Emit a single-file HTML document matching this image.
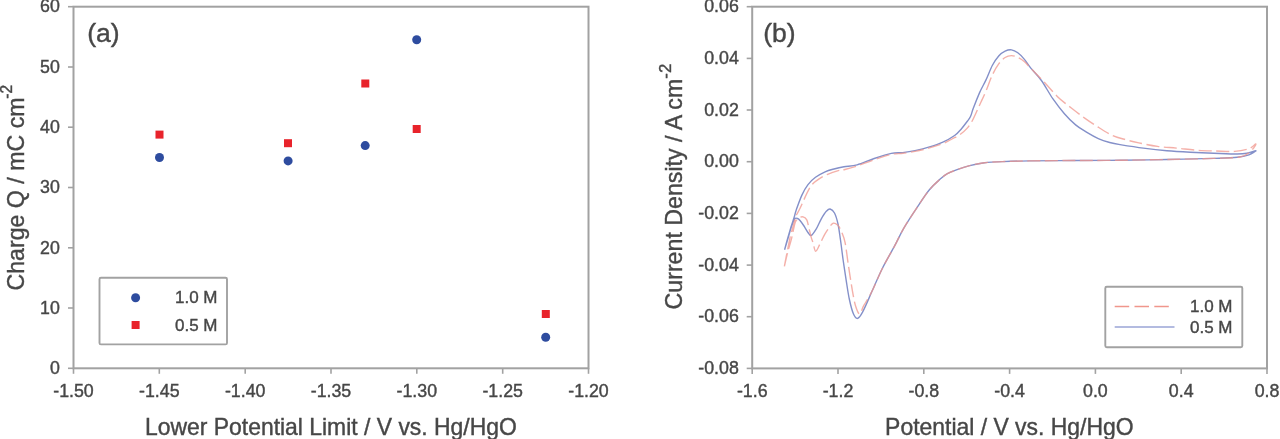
<!DOCTYPE html>
<html><head><meta charset="utf-8"><title>Figure</title>
<style>
html,body{margin:0;padding:0;background:#fff;}
body{width:1280px;height:439px;overflow:hidden;}
svg{display:block;filter:blur(0.75px);}
text{font-family:'Liberation Sans', Arial, Helvetica, sans-serif;fill:#474747;stroke:#474747;stroke-width:0.4px;}
.t{font-size:17.8px;}
.l{font-size:17px;}
.a{font-size:23.4px;}
.s{font-size:17px;}
.p{font-size:26.5px;}
</style></head><body>
<svg width="1280" height="439" viewBox="0 0 1280 439">
<rect width="1280" height="439" fill="#fff"/>
<rect x="73.5" y="6.7" width="515.0" height="361.6" fill="none" stroke="#a2a2a2" stroke-width="2"/>
<line x1="68.0" y1="368.3" x2="73.5" y2="368.3" stroke="#a2a2a2" stroke-width="1.6"/>
<text x="59.8" y="374.0" text-anchor="end" class="t">0</text>
<line x1="68.0" y1="308.0" x2="73.5" y2="308.0" stroke="#a2a2a2" stroke-width="1.6"/>
<text x="59.8" y="313.7" text-anchor="end" class="t">10</text>
<line x1="68.0" y1="247.8" x2="73.5" y2="247.8" stroke="#a2a2a2" stroke-width="1.6"/>
<text x="59.8" y="253.5" text-anchor="end" class="t">20</text>
<line x1="68.0" y1="187.5" x2="73.5" y2="187.5" stroke="#a2a2a2" stroke-width="1.6"/>
<text x="59.8" y="193.2" text-anchor="end" class="t">30</text>
<line x1="68.0" y1="127.2" x2="73.5" y2="127.2" stroke="#a2a2a2" stroke-width="1.6"/>
<text x="59.8" y="132.9" text-anchor="end" class="t">40</text>
<line x1="68.0" y1="67.0" x2="73.5" y2="67.0" stroke="#a2a2a2" stroke-width="1.6"/>
<text x="59.8" y="72.7" text-anchor="end" class="t">50</text>
<line x1="68.0" y1="6.7" x2="73.5" y2="6.7" stroke="#a2a2a2" stroke-width="1.6"/>
<text x="59.8" y="12.4" text-anchor="end" class="t">60</text>
<line x1="73.5" y1="368.3" x2="73.5" y2="373.8" stroke="#a2a2a2" stroke-width="1.6"/>
<text x="73.5" y="397.2" text-anchor="middle" class="t">-1.50</text>
<line x1="159.3" y1="368.3" x2="159.3" y2="373.8" stroke="#a2a2a2" stroke-width="1.6"/>
<text x="159.3" y="397.2" text-anchor="middle" class="t">-1.45</text>
<line x1="245.2" y1="368.3" x2="245.2" y2="373.8" stroke="#a2a2a2" stroke-width="1.6"/>
<text x="245.2" y="397.2" text-anchor="middle" class="t">-1.40</text>
<line x1="331.0" y1="368.3" x2="331.0" y2="373.8" stroke="#a2a2a2" stroke-width="1.6"/>
<text x="331.0" y="397.2" text-anchor="middle" class="t">-1.35</text>
<line x1="416.8" y1="368.3" x2="416.8" y2="373.8" stroke="#a2a2a2" stroke-width="1.6"/>
<text x="416.8" y="397.2" text-anchor="middle" class="t">-1.30</text>
<line x1="502.7" y1="368.3" x2="502.7" y2="373.8" stroke="#a2a2a2" stroke-width="1.6"/>
<text x="502.7" y="397.2" text-anchor="middle" class="t">-1.25</text>
<line x1="588.5" y1="368.3" x2="588.5" y2="373.8" stroke="#a2a2a2" stroke-width="1.6"/>
<text x="588.5" y="397.2" text-anchor="middle" class="t">-1.20</text>
<rect x="155.5" y="130.6" width="8" height="8" fill="#e8232b"/>
<rect x="284.0" y="139.2" width="8" height="8" fill="#e8232b"/>
<rect x="361.3" y="79.5" width="8" height="8" fill="#e8232b"/>
<rect x="412.7" y="125.0" width="8" height="8" fill="#e8232b"/>
<rect x="541.8" y="310.0" width="8" height="8" fill="#e8232b"/>
<circle cx="159.5" cy="157.5" r="4.5" fill="#2e4c9f"/>
<circle cx="288.1" cy="160.9" r="4.5" fill="#2e4c9f"/>
<circle cx="365.2" cy="145.6" r="4.5" fill="#2e4c9f"/>
<circle cx="416.7" cy="39.7" r="4.5" fill="#2e4c9f"/>
<circle cx="545.7" cy="337.2" r="4.5" fill="#2e4c9f"/>
<rect x="99.5" y="277.7" width="127.5" height="66.7" fill="#fff" stroke="#a2a2a2" stroke-width="1.9" rx="1.5"/>
<circle cx="135.6" cy="297.7" r="4.5" fill="#2e4c9f"/>
<rect x="131.6" y="321" width="8" height="8" fill="#e8232b"/>
<text x="217.5" y="303.3" text-anchor="end" class="l">1.0 M</text>
<text x="217.5" y="330.8" text-anchor="end" class="l">0.5 M</text>
<text x="87.3" y="42" class="p">(a)</text>
<text x="145.0" y="434.6" class="a" textLength="371.8" lengthAdjust="spacingAndGlyphs">Lower Potential Limit / V vs. Hg/HgO</text>
<text transform="translate(23.7,290.5) rotate(-90)" class="a" textLength="193" lengthAdjust="spacingAndGlyphs">Charge Q / mC cm</text>
<text transform="translate(11.7,98.8) rotate(-90)" class="a" style="font-size:15.6px">-2</text>
<rect x="752.2" y="6.7" width="514.8" height="361.7" fill="none" stroke="#a2a2a2" stroke-width="2"/>
<line x1="746.7" y1="6.7" x2="752.2" y2="6.7" stroke="#a2a2a2" stroke-width="1.6"/>
<text x="738.8" y="12.4" text-anchor="end" class="t">0.06</text>
<line x1="746.7" y1="58.4" x2="752.2" y2="58.4" stroke="#a2a2a2" stroke-width="1.6"/>
<text x="738.8" y="64.1" text-anchor="end" class="t">0.04</text>
<line x1="746.7" y1="110.0" x2="752.2" y2="110.0" stroke="#a2a2a2" stroke-width="1.6"/>
<text x="738.8" y="115.7" text-anchor="end" class="t">0.02</text>
<line x1="746.7" y1="161.7" x2="752.2" y2="161.7" stroke="#a2a2a2" stroke-width="1.6"/>
<text x="738.8" y="167.4" text-anchor="end" class="t">0.00</text>
<line x1="746.7" y1="213.4" x2="752.2" y2="213.4" stroke="#a2a2a2" stroke-width="1.6"/>
<text x="738.8" y="219.1" text-anchor="end" class="t">-0.02</text>
<line x1="746.7" y1="265.1" x2="752.2" y2="265.1" stroke="#a2a2a2" stroke-width="1.6"/>
<text x="738.8" y="270.8" text-anchor="end" class="t">-0.04</text>
<line x1="746.7" y1="316.7" x2="752.2" y2="316.7" stroke="#a2a2a2" stroke-width="1.6"/>
<text x="738.8" y="322.4" text-anchor="end" class="t">-0.06</text>
<line x1="746.7" y1="368.4" x2="752.2" y2="368.4" stroke="#a2a2a2" stroke-width="1.6"/>
<text x="738.8" y="374.1" text-anchor="end" class="t">-0.08</text>
<line x1="752.2" y1="368.4" x2="752.2" y2="373.9" stroke="#a2a2a2" stroke-width="1.6"/>
<text x="752.2" y="397.2" text-anchor="middle" class="t">-1.6</text>
<line x1="838.0" y1="368.4" x2="838.0" y2="373.9" stroke="#a2a2a2" stroke-width="1.6"/>
<text x="838.0" y="397.2" text-anchor="middle" class="t">-1.2</text>
<line x1="923.8" y1="368.4" x2="923.8" y2="373.9" stroke="#a2a2a2" stroke-width="1.6"/>
<text x="923.8" y="397.2" text-anchor="middle" class="t">-0.8</text>
<line x1="1009.6" y1="368.4" x2="1009.6" y2="373.9" stroke="#a2a2a2" stroke-width="1.6"/>
<text x="1009.6" y="397.2" text-anchor="middle" class="t">-0.4</text>
<line x1="1095.4" y1="368.4" x2="1095.4" y2="373.9" stroke="#a2a2a2" stroke-width="1.6"/>
<text x="1095.4" y="397.2" text-anchor="middle" class="t">0.0</text>
<line x1="1181.2" y1="368.4" x2="1181.2" y2="373.9" stroke="#a2a2a2" stroke-width="1.6"/>
<text x="1181.2" y="397.2" text-anchor="middle" class="t">0.4</text>
<line x1="1267.0" y1="368.4" x2="1267.0" y2="373.9" stroke="#a2a2a2" stroke-width="1.6"/>
<text x="1267.0" y="397.2" text-anchor="middle" class="t">0.8</text>
<path d="M784.6 249.7 C785.1 247.8 786.7 241.8 787.8 238.0 C788.9 234.2 790.0 230.4 791.0 227.0 C792.0 223.6 793.2 220.4 794.1 217.5 C795.0 214.6 795.1 213.2 796.4 209.5 C797.7 205.8 800.0 199.2 801.9 195.1 C803.8 190.9 805.7 187.6 808.0 184.6 C810.3 181.6 812.6 179.4 815.5 177.3 C818.4 175.2 822.0 173.2 825.1 171.8 C828.2 170.4 830.9 169.8 834.0 169.0 C837.1 168.2 840.1 167.5 844.0 166.8 C847.9 166.1 852.1 166.2 857.1 164.8 C862.1 163.4 868.5 160.4 874.2 158.5 C879.9 156.6 886.5 154.4 891.3 153.4 C896.0 152.4 898.8 153.1 902.7 152.6 C906.7 152.1 910.7 151.5 915.0 150.6 C919.3 149.7 924.2 148.6 928.7 147.2 C933.2 145.8 938.0 144.3 942.3 142.4 C946.6 140.5 951.4 137.8 954.6 135.5 C957.8 133.2 959.4 131.1 961.5 128.7 C963.6 126.3 966.0 123.0 967.5 121.0 C969.0 119.0 969.5 118.6 970.5 116.5 C971.5 114.4 971.7 112.6 973.2 108.6 C974.7 104.6 977.5 97.4 979.6 92.6 C981.7 87.8 983.9 84.4 986.0 79.9 C988.1 75.4 990.2 69.5 992.3 65.5 C994.4 61.5 996.6 58.4 998.7 56.0 C1000.8 53.6 1003.0 52.2 1005.1 51.2 C1007.2 50.2 1009.4 49.6 1011.5 49.9 C1013.6 50.2 1015.7 51.3 1017.8 52.8 C1019.9 54.3 1022.1 56.6 1024.2 59.1 C1026.3 61.6 1027.7 64.3 1030.6 67.9 C1033.5 71.5 1037.7 75.4 1041.4 80.5 C1045.1 85.6 1049.0 93.2 1052.8 98.7 C1056.6 104.2 1060.4 109.1 1064.2 113.5 C1068.0 117.9 1071.8 121.8 1075.6 124.9 C1079.4 128.1 1083.1 130.1 1086.9 132.4 C1090.7 134.7 1094.5 136.9 1098.3 138.6 C1102.1 140.3 1106.1 141.5 1109.7 142.5 C1113.3 143.5 1114.4 143.7 1120.0 144.6 C1125.6 145.5 1135.6 147.1 1143.4 148.1 C1151.2 149.1 1159.1 150.0 1166.9 150.7 C1174.7 151.4 1182.5 151.8 1190.3 152.2 C1198.1 152.6 1206.0 152.9 1213.8 153.2 C1221.6 153.5 1231.7 154.0 1237.2 154.0 C1242.7 154.0 1243.9 153.8 1247.0 153.2 C1250.1 152.6 1255.6 150.4 1255.9 150.7 C1256.2 151.0 1252.0 153.7 1248.9 154.8 C1245.8 155.9 1243.1 156.7 1237.2 157.3 C1231.3 157.9 1225.5 158.0 1213.8 158.4 C1202.1 158.8 1182.5 159.2 1166.9 159.5 C1151.3 159.8 1135.5 160.1 1120.0 160.3 C1104.5 160.5 1088.8 160.4 1073.6 160.5 C1058.4 160.6 1040.9 160.7 1029.0 160.9 C1017.1 161.1 1009.7 161.3 1002.3 161.6 C994.9 161.9 989.9 162.1 984.5 162.8 C979.1 163.5 974.2 164.5 969.7 165.6 C965.2 166.7 961.5 168.0 957.8 169.3 C954.1 170.7 950.3 172.1 947.4 173.7 C944.5 175.3 943.2 176.4 940.2 179.1 C937.2 181.8 933.2 185.1 929.2 190.0 C925.2 194.9 920.8 201.9 916.5 208.3 C912.2 214.7 907.4 222.0 903.7 228.3 C900.0 234.6 898.1 239.5 894.5 246.2 C890.9 252.9 886.0 261.2 882.2 268.7 C878.5 276.2 875.2 284.1 872.0 291.3 C868.8 298.5 865.1 307.4 862.7 311.9 C860.3 316.4 859.1 318.0 857.6 318.4 C856.1 318.8 854.9 317.1 853.5 314.0 C852.1 310.9 850.6 305.0 849.4 299.5 C848.2 294.0 847.3 287.6 846.3 281.1 C845.3 274.6 844.2 267.4 843.2 260.5 C842.2 253.7 841.4 246.1 840.5 240.0 C839.6 233.9 839.0 228.5 838.0 224.0 C837.0 219.5 835.8 215.5 834.5 213.0 C833.2 210.5 831.5 209.3 830.1 209.0 C828.7 208.7 827.8 209.7 826.3 211.3 C824.8 212.9 823.0 215.9 821.3 218.8 C819.6 221.7 818.0 226.0 816.3 228.8 C814.6 231.6 812.7 234.8 811.3 235.4 C809.9 236.0 809.2 234.1 808.0 232.5 C806.8 230.9 805.3 228.0 804.0 226.0 C802.7 224.0 801.1 221.8 800.0 220.5 C798.9 219.2 798.4 218.8 797.5 218.5 C796.6 218.2 795.6 217.4 794.5 219.0 C793.4 220.6 792.1 224.7 791.0 228.0 C789.9 231.3 788.9 235.4 787.8 239.0 C786.7 242.6 785.1 247.9 784.6 249.7" fill="none" stroke="#8490c9" stroke-width="1.4"/>
<path d="M784.4 266.4 C784.8 264.1 786.0 257.7 787.0 252.8 C788.0 247.9 789.2 241.4 790.2 236.9 C791.2 232.4 792.3 229.2 793.3 225.7 C794.3 222.2 794.9 218.8 796.0 216.0 C797.1 213.2 797.5 213.5 799.8 208.8 C802.1 204.1 806.8 192.7 809.8 187.8 C812.8 182.9 815.1 181.8 818.0 179.6 C820.9 177.4 823.6 176.1 827.0 174.6 C830.4 173.1 835.3 171.4 838.3 170.6 C841.3 169.8 841.9 170.3 845.0 169.5 C848.1 168.7 852.2 167.6 857.0 166.0 C861.8 164.4 868.3 161.7 874.0 159.8 C879.7 157.9 886.2 155.5 891.0 154.4 C895.8 153.3 899.0 153.8 903.0 153.3 C907.0 152.8 910.7 152.2 915.0 151.4 C919.3 150.6 924.2 149.5 928.7 148.2 C933.2 146.9 938.4 145.3 942.3 143.8 C946.2 142.3 949.0 140.6 952.0 139.0 C955.0 137.4 957.6 136.3 960.1 134.5 C962.6 132.7 965.0 130.7 967.0 128.4 C969.0 126.1 970.7 123.5 972.4 120.5 C974.1 117.5 975.8 113.4 977.2 110.3 C978.6 107.2 979.5 105.2 981.0 102.0 C982.5 98.8 984.1 95.5 986.0 91.0 C987.9 86.5 990.2 79.6 992.3 75.1 C994.4 70.6 996.6 66.8 998.7 63.9 C1000.8 61.0 1003.0 58.9 1005.1 57.5 C1007.2 56.1 1009.4 55.6 1011.5 55.6 C1013.6 55.6 1015.7 56.5 1017.8 57.5 C1019.9 58.5 1022.1 59.8 1024.2 61.5 C1026.3 63.2 1027.3 64.7 1030.6 68.0 C1033.8 71.3 1039.2 76.9 1043.7 81.6 C1048.2 86.3 1052.8 92.0 1057.3 96.4 C1061.8 100.8 1066.4 104.2 1071.0 107.8 C1075.6 111.4 1080.2 114.9 1084.7 118.1 C1089.2 121.3 1093.8 124.4 1098.3 127.2 C1102.8 130.1 1107.4 133.1 1112.0 135.2 C1116.6 137.3 1121.2 138.4 1125.7 139.7 C1130.2 141.0 1133.5 141.8 1138.8 142.9 C1144.1 144.0 1151.2 145.5 1157.5 146.4 C1163.8 147.3 1169.8 147.5 1176.3 148.1 C1182.8 148.7 1189.6 149.7 1196.2 150.2 C1202.8 150.7 1209.7 150.8 1216.1 151.0 C1222.5 151.2 1229.3 151.8 1234.8 151.4 C1240.3 151.0 1245.4 149.9 1248.9 148.7 C1252.4 147.5 1255.7 143.4 1255.9 144.0 C1256.1 144.6 1252.7 149.8 1250.0 152.0 C1247.3 154.2 1246.0 155.9 1240.0 157.0 C1234.0 158.1 1226.0 158.0 1213.8 158.4 C1201.6 158.8 1182.5 159.2 1166.9 159.5 C1151.3 159.8 1135.5 160.1 1120.0 160.3 C1104.5 160.5 1088.8 160.4 1073.6 160.5 C1058.4 160.6 1040.9 160.7 1029.0 160.9 C1017.1 161.1 1009.7 161.3 1002.3 161.6 C994.9 161.9 989.9 162.1 984.5 162.8 C979.1 163.5 974.2 164.5 969.7 165.6 C965.2 166.7 961.5 168.0 957.8 169.3 C954.1 170.7 950.3 172.1 947.4 173.7 C944.5 175.3 943.2 176.4 940.2 179.1 C937.2 181.8 933.2 185.1 929.2 190.0 C925.2 194.9 920.8 201.9 916.5 208.3 C912.2 214.7 907.4 222.0 903.7 228.3 C900.0 234.6 898.1 239.5 894.5 246.2 C890.9 252.9 886.0 261.2 882.2 268.7 C878.5 276.2 875.1 285.1 872.0 291.3 C868.9 297.5 865.8 301.9 863.7 305.7 C861.6 309.5 861.0 313.9 859.6 313.9 C858.2 313.9 856.7 309.5 855.5 305.7 C854.3 301.9 853.7 298.1 852.5 291.3 C851.3 284.5 849.5 272.7 848.3 264.6 C847.1 256.5 846.2 248.2 845.1 242.6 C844.0 237.0 842.6 234.2 841.4 231.3 C840.1 228.4 839.0 226.4 837.6 225.1 C836.2 223.8 834.5 223.0 833.2 223.2 C832.0 223.4 831.5 224.5 830.1 226.3 C828.7 228.1 826.7 230.9 825.0 233.8 C823.3 236.7 821.5 241.0 820.0 243.9 C818.5 246.8 816.8 251.4 815.7 251.3 C814.6 251.2 813.9 245.5 813.2 243.2 C812.5 240.9 812.0 240.2 811.3 237.6 C810.6 235.0 809.5 230.5 808.8 227.6 C808.1 224.7 807.8 221.9 806.9 220.1 C806.0 218.3 804.3 217.3 803.1 216.9 C801.9 216.5 800.6 217.0 799.5 217.5 C798.4 218.0 797.3 218.9 796.5 220.0 C795.7 221.1 795.5 220.9 794.7 224.0 C793.9 227.1 792.8 233.5 791.6 238.3 C790.4 243.1 788.8 247.9 787.6 252.6 C786.4 257.3 784.9 264.1 784.4 266.4" fill="none" stroke="#f0968c" stroke-width="1.4" stroke-dasharray="13 4.5" stroke-opacity="0.75"/>
<rect x="1105.3" y="286.8" width="137" height="60.4" fill="#fff" stroke="#a2a2a2" stroke-width="1.9" rx="1.5"/>
<line x1="1114.7" y1="306.5" x2="1169" y2="306.5" stroke="#f0968c" stroke-width="1.5" stroke-dasharray="14.5 5.3"/>
<line x1="1114.7" y1="327" x2="1174.5" y2="327" stroke="#9aa4d6" stroke-width="1.5"/>
<text x="1232.5" y="312.1" text-anchor="end" class="l">1.0 M</text>
<text x="1232.5" y="332.9" text-anchor="end" class="l">0.5 M</text>
<text x="763.2" y="42" class="p">(b)</text>
<text x="885.1" y="434.6" class="a" textLength="248.5" lengthAdjust="spacingAndGlyphs">Potential / V vs. Hg/HgO</text>
<text transform="translate(681.8,309.5) rotate(-90)" class="a" textLength="245.8" lengthAdjust="spacingAndGlyphs">Current Density / A cm<tspan class="s" dy="-11">-2</tspan></text>
</svg>
</body></html>
